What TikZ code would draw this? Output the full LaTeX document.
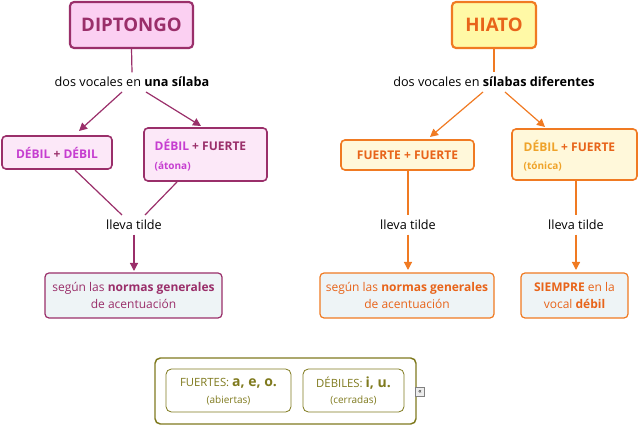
\documentclass[tikz,border=0pt]{standalone}
\usepackage{fontspec}
\setmainfont{Open Sans}
\usetikzlibrary{arrows.meta}
\definecolor{pborder}{HTML}{9A2F6A}
\definecolor{pfill}{HTML}{FBD0F2}
\definecolor{plight}{HTML}{FCE8F8}
\definecolor{pmag}{HTML}{C63ED0}
\definecolor{oborder}{HTML}{F07A22}
\definecolor{ofill}{HTML}{FFF9A6}
\definecolor{olight}{HTML}{FFF8DA}
\definecolor{odark}{HTML}{E8641A}
\definecolor{oyel}{HTML}{EFA32A}
\definecolor{bfill}{HTML}{EEF4F6}
\definecolor{olive}{HTML}{7F7A1E}
\tikzset{
 box/.style={rounded corners=3pt,line width=1.2pt,inner sep=0pt},
 lab/.style={font=\fontsize{9.5}{11}\selectfont,text=black},
 btxt/.style={font=\fontsize{9}{11}\selectfont\bfseries},
 stxt/.style={align=center,font=\fontsize{9}{13}\selectfont},
 arr/.style={-{Triangle[length=6pt,width=6pt]},line width=0.9pt},
 ln/.style={line width=0.9pt}
}
\begin{document}
\begin{tikzpicture}[x=0.75pt,y=-0.75pt]
\useasboundingbox (0,0) rectangle (640,427);
% --- DIPTONGO
\draw[box,draw=pborder,fill=pfill,line width=1.6pt] (70,2) rectangle (193,48);
\node[text=pborder,font=\fontsize{14}{16}\selectfont\bfseries] (dip) at (131.5,25) {DIPTONGO};
\coordinate (dipb) at (131.5,48);
\node[lab] (dl) at (132,82) {dos vocales en \textbf{una sílaba}};
\draw[box,draw=pborder,fill=plight] (2,136) rectangle (112,169);
\node[btxt,text=pmag] (dd) at (57,152.5) {DÉBIL \textcolor{pborder}{+} DÉBIL};
\draw[box,draw=pborder,fill=plight] (144,128) rectangle (267,181);
\node[btxt,anchor=west,text=pmag] (df) at (150,145) {DÉBIL \textcolor{pborder}{+ FUERTE}};
\node[anchor=west,text=pmag,font=\fontsize{7.5}{9}\selectfont\bfseries] (dfa) at (150,166) {(átona)};
\node[lab] (dt) at (134,225) {lleva tilde};
\draw[box,draw=pborder,fill=bfill,line width=0.9pt] (45,273) rectangle (222,318);
\node[stxt,text=pborder] (ds) at (133.5,295.5) {según las \textbf{normas generales}\\de acentuación};
\begin{scope}[draw=pborder,color=pborder]
\draw[ln] (dipb) -- (dl.north);
\draw[arr] (122,92) -- (79,131);
\draw[arr] (146,92) -- (201,126);
\draw[ln] (75,170) -- (122,215);
\draw[ln] (177,182) -- (145,215);
\draw[arr] (dt.south) -- (134,271);
\end{scope}
% --- HIATO
\draw[box,draw=oborder,fill=ofill,line width=1.6pt] (452,2) rectangle (536,48);
\node[text=odark,font=\fontsize{14}{16}\selectfont\bfseries] (hi) at (494,25) {HIATO};
\coordinate (hib) at (494,48);
\node[lab] (hl) at (494,82) {dos vocales en \textbf{sílabas diferentes}};
\draw[box,draw=oborder,fill=olight] (341,140) rectangle (474,170);
\node[btxt,text=odark] (ff) at (407.5,155) {FUERTE + FUERTE};
\draw[box,draw=oborder,fill=olight] (512,129) rectangle (637,180);
\node[btxt,anchor=west,text=oyel] (hd) at (519,146) {DÉBIL \textcolor{odark}{+ FUERTE}};
\node[anchor=west,text=oyel,font=\fontsize{7.5}{9}\selectfont\bfseries] (hda) at (519,166) {(tónica)};
\node[lab] (ht1) at (408,225) {lleva tilde};
\node[lab] (ht2) at (576,225) {lleva tilde};
\draw[box,draw=oborder,fill=bfill,line width=0.9pt] (320,273) rectangle (494,318);
\node[stxt,text=odark] (hs) at (407,295.5) {según las \textbf{normas generales}\\de acentuación};
\draw[box,draw=oborder,fill=bfill,line width=0.9pt] (521,273) rectangle (628,318);
\node[stxt,text=odark] (hsi) at (574.5,295.5) {\textbf{SIEMPRE} en la\\vocal \textbf{débil}};
\begin{scope}[draw=oborder,color=oborder]
\draw[ln] (hib) -- (hl.north);
\draw[arr] (483,92) -- (430,137);
\draw[arr] (505,92) -- (545,127);
\draw[ln] (408,171) -- (ht1.north);
\draw[arr] (ht1.south) -- (408,270);
\draw[ln] (576,181) -- (ht2.north);
\draw[arr] (ht2.south) -- (576,270);
\end{scope}
% --- legend
\draw[rounded corners=4pt,draw=olive,line width=1.1pt] (155,358) rectangle (416,424);
\draw[rounded corners=4pt,draw=olive,line width=0.6pt] (166,369) rectangle (291,412);
\draw[rounded corners=4pt,draw=olive,line width=0.6pt] (303,369) rectangle (404,412);
\node[text=olive,font=\fontsize{8.5}{10}\selectfont] (lf) at (228.5,383) {FUERTES: \textbf{\fontsize{10.5}{11}\selectfont a, e, o.}};
\node[text=olive,font=\fontsize{7.5}{9}\selectfont] (lf2) at (228.5,400) {(abiertas)};
\node[text=olive,font=\fontsize{8.5}{10}\selectfont] (ld) at (353.5,383) {DÉBILES: \textbf{\fontsize{10.5}{11}\selectfont i, u.}};
\node[text=olive,font=\fontsize{7.5}{9}\selectfont] (ld2) at (353.5,400) {(cerradas)};
\node[draw=gray,fill=gray!15,inner sep=0.5pt,minimum size=7pt,font=\fontsize{5}{5}\selectfont] (ic) at (420,391.5) {«};
\end{tikzpicture}
\end{document}
